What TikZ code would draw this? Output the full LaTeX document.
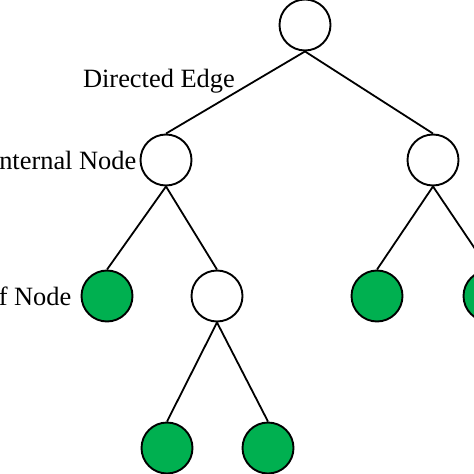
\documentclass[tikz,border=0pt]{standalone}
\usepackage{fontspec}
\setmainfont{Liberation Serif}
\usetikzlibrary{positioning}
\definecolor{leafgreen}{RGB}{0,176,80}
\tikzset{
  vtx/.style={circle,draw,line width=1.9bp,minimum size=51bp,inner sep=0,fill=white},
  leaf/.style={vtx,fill=leafgreen},
  lbl/.style={inner sep=0,font=\fontsize{26.5}{30}\selectfont},
  link/.style={line width=1.8bp}
}
\begin{document}
\begin{tikzpicture}[x=1bp,y=-1bp]
  \useasboundingbox (0,0) rectangle (474,474);
  \node[vtx] (root) at (305,25) {};
  \node[vtx] (inL) at (166,160) {};
  \node[vtx] (inR) at (433,160) {};
  \node[leaf] (leafA) at (107,296) {};
  \node[vtx] (inM) at (217,296) {};
  \node[leaf] (leafB) at (377,296) {};
  \node[leaf] (leafC) at (489,296) {};
  \node[leaf] (leafD) at (167,448) {};
  \node[leaf] (leafE) at (268,448) {};
  \foreach \a/\b in {root/inL,root/inR,inL/leafA,inL/inM,inR/leafB,inR/leafC,inM/leafD,inM/leafE}
    \draw[link] (\a.south) -- (\b.north);
  \node[lbl,anchor=base east] (edgeLbl) at (235,88) {Directed Edge};
  \node[lbl,left=3bp of inL] (inLbl) {Internal Node};
  \node[lbl,left=9bp of leafA] (leafLbl) {Leaf Node};
\end{tikzpicture}
\end{document}
